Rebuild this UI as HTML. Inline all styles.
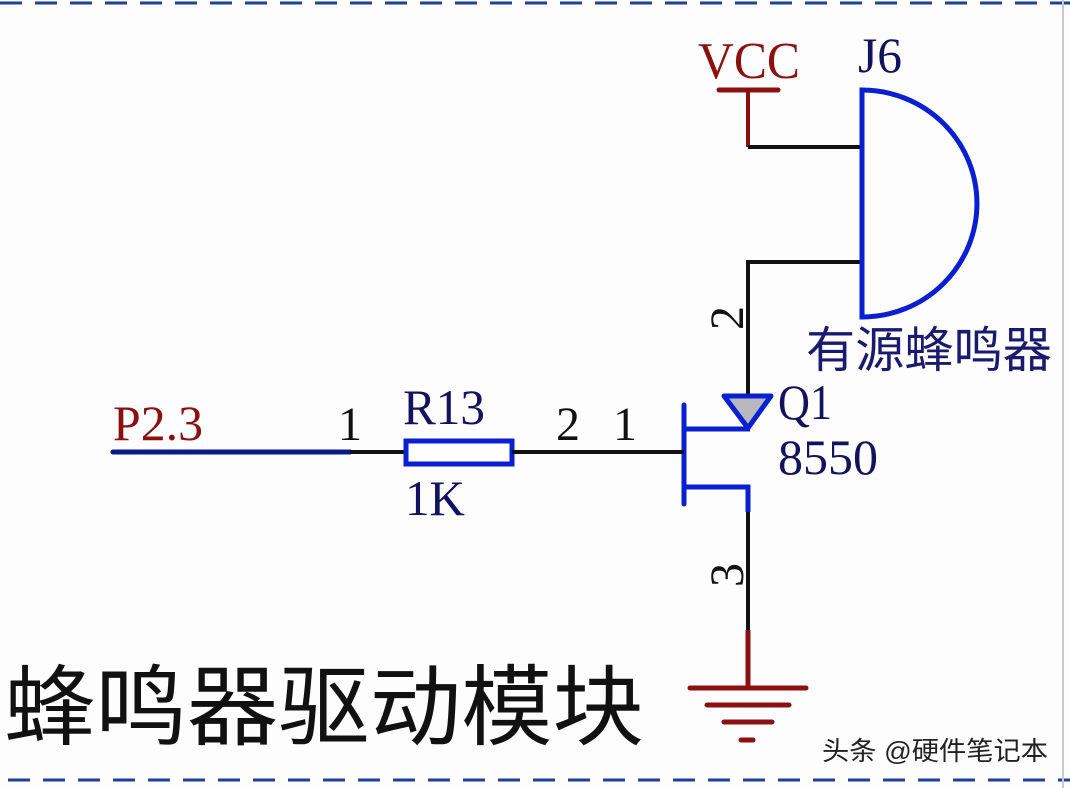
<!DOCTYPE html>
<html><head><meta charset="utf-8"><style>
html,body{margin:0;padding:0;background:#fdfdfd;width:1070px;height:788px;overflow:hidden}
svg{display:block}
text{font-family:"Liberation Serif","Noto Serif CJK SC",serif}
.cjk{font-family:"Liberation Sans","Noto Sans CJK SC",sans-serif}
</style></head><body>
<svg width="1070" height="788" viewBox="0 0 1070 788" xmlns="http://www.w3.org/2000/svg">
<rect width="1070" height="788" fill="#fdfdfd"/>
<line x1="0" y1="3" x2="1070" y2="3" stroke="#1f3f99" stroke-width="3" stroke-dasharray="22,13"/>
<line x1="8" y1="780" x2="1070" y2="780" stroke="#1f3f99" stroke-width="3" stroke-dasharray="22,13"/>
<line x1="1063" y1="0" x2="1063" y2="788" stroke="#c8c8d0" stroke-width="2"/>
<line x1="719" y1="90" x2="778" y2="90" stroke="#8b1010" stroke-width="5" stroke-linecap="round"/>
<line x1="748" y1="90" x2="748" y2="147" stroke="#8b1010" stroke-width="4"/>
<text x="698" y="78" font-size="52" fill="#8b1010" textLength="102" lengthAdjust="spacingAndGlyphs">VCC</text>
<polyline points="748,147 862,147" fill="none" stroke="#111" stroke-width="4"/>
<polyline points="862,262 748,262 748,398" fill="none" stroke="#111" stroke-width="4"/>
<path d="M862,90 A115,113.5 0 0 1 862,317 Z" fill="none" stroke="#0a1fd0" stroke-width="5"/>
<text x="858" y="72" font-size="50" fill="#12125e" textLength="44" lengthAdjust="spacingAndGlyphs">J6</text>
<text x="806" y="367" font-size="49" fill="#1a1a6e" class="cjk" textLength="246" lengthAdjust="spacingAndGlyphs">有源蜂鸣器</text>
<text x="0" y="0" font-size="48" fill="#111" transform="translate(743,318) rotate(-90)" text-anchor="middle">2</text>
<polygon points="724,396 771,396 748,428" fill="#b8b8c0" stroke="#0a1fd0" stroke-width="5" stroke-linejoin="round"/>
<line x1="684" y1="405" x2="684" y2="504" stroke="#0a1fd0" stroke-width="5" stroke-linecap="round"/>
<line x1="684" y1="429" x2="750" y2="429" stroke="#0a1fd0" stroke-width="5"/>
<polyline points="684,487 748,487 748,512" fill="none" stroke="#0a1fd0" stroke-width="5"/>
<line x1="748" y1="512" x2="748" y2="630" stroke="#111" stroke-width="4"/>
<line x1="748" y1="630" x2="748" y2="688" stroke="#8b1010" stroke-width="5"/>
<text x="778" y="419" font-size="50" fill="#12125e" textLength="54" lengthAdjust="spacingAndGlyphs">Q1</text>
<text x="778" y="474" font-size="50" fill="#12125e" textLength="100" lengthAdjust="spacingAndGlyphs">8550</text>
<text x="0" y="0" font-size="48" fill="#111" transform="translate(743,575) rotate(-90)" text-anchor="middle">3</text>
<line x1="690" y1="688" x2="806" y2="688" stroke="#8b1010" stroke-width="5" stroke-linecap="round"/>
<line x1="707" y1="705" x2="789" y2="705" stroke="#8b1010" stroke-width="5" stroke-linecap="round"/>
<line x1="724" y1="722" x2="772" y2="722" stroke="#8b1010" stroke-width="5" stroke-linecap="round"/>
<line x1="741" y1="740" x2="753" y2="740" stroke="#8b1010" stroke-width="5" stroke-linecap="round"/>
<line x1="113" y1="452" x2="350" y2="452" stroke="#0a1a8a" stroke-width="5" stroke-linecap="round"/>
<line x1="350" y1="452" x2="405" y2="452" stroke="#111" stroke-width="4"/>
<rect x="406" y="441" width="106" height="23" fill="#fff" stroke="#0a1fd0" stroke-width="5"/>
<line x1="512" y1="452" x2="684" y2="452" stroke="#111" stroke-width="4"/>
<text x="113" y="440" font-size="50" fill="#8b1010" textLength="90" lengthAdjust="spacingAndGlyphs">P2.3</text>
<text x="338" y="440" font-size="48" fill="#111">1</text>
<text x="403" y="424" font-size="50" fill="#12125e" textLength="82" lengthAdjust="spacingAndGlyphs">R13</text>
<text x="556" y="440" font-size="48" fill="#111">2</text>
<text x="613" y="440" font-size="48" fill="#111">1</text>
<text x="405" y="515" font-size="50" fill="#12125e" textLength="60" lengthAdjust="spacingAndGlyphs">1K</text>
<text x="4" y="738" font-size="88" fill="#111" class="cjk" textLength="640" lengthAdjust="spacingAndGlyphs">蜂鸣器驱动模块</text>
<text x="822" y="760" font-size="26" fill="#222" class="cjk" textLength="226" lengthAdjust="spacingAndGlyphs">头条 @硬件笔记本</text>
</svg>
</body></html>
